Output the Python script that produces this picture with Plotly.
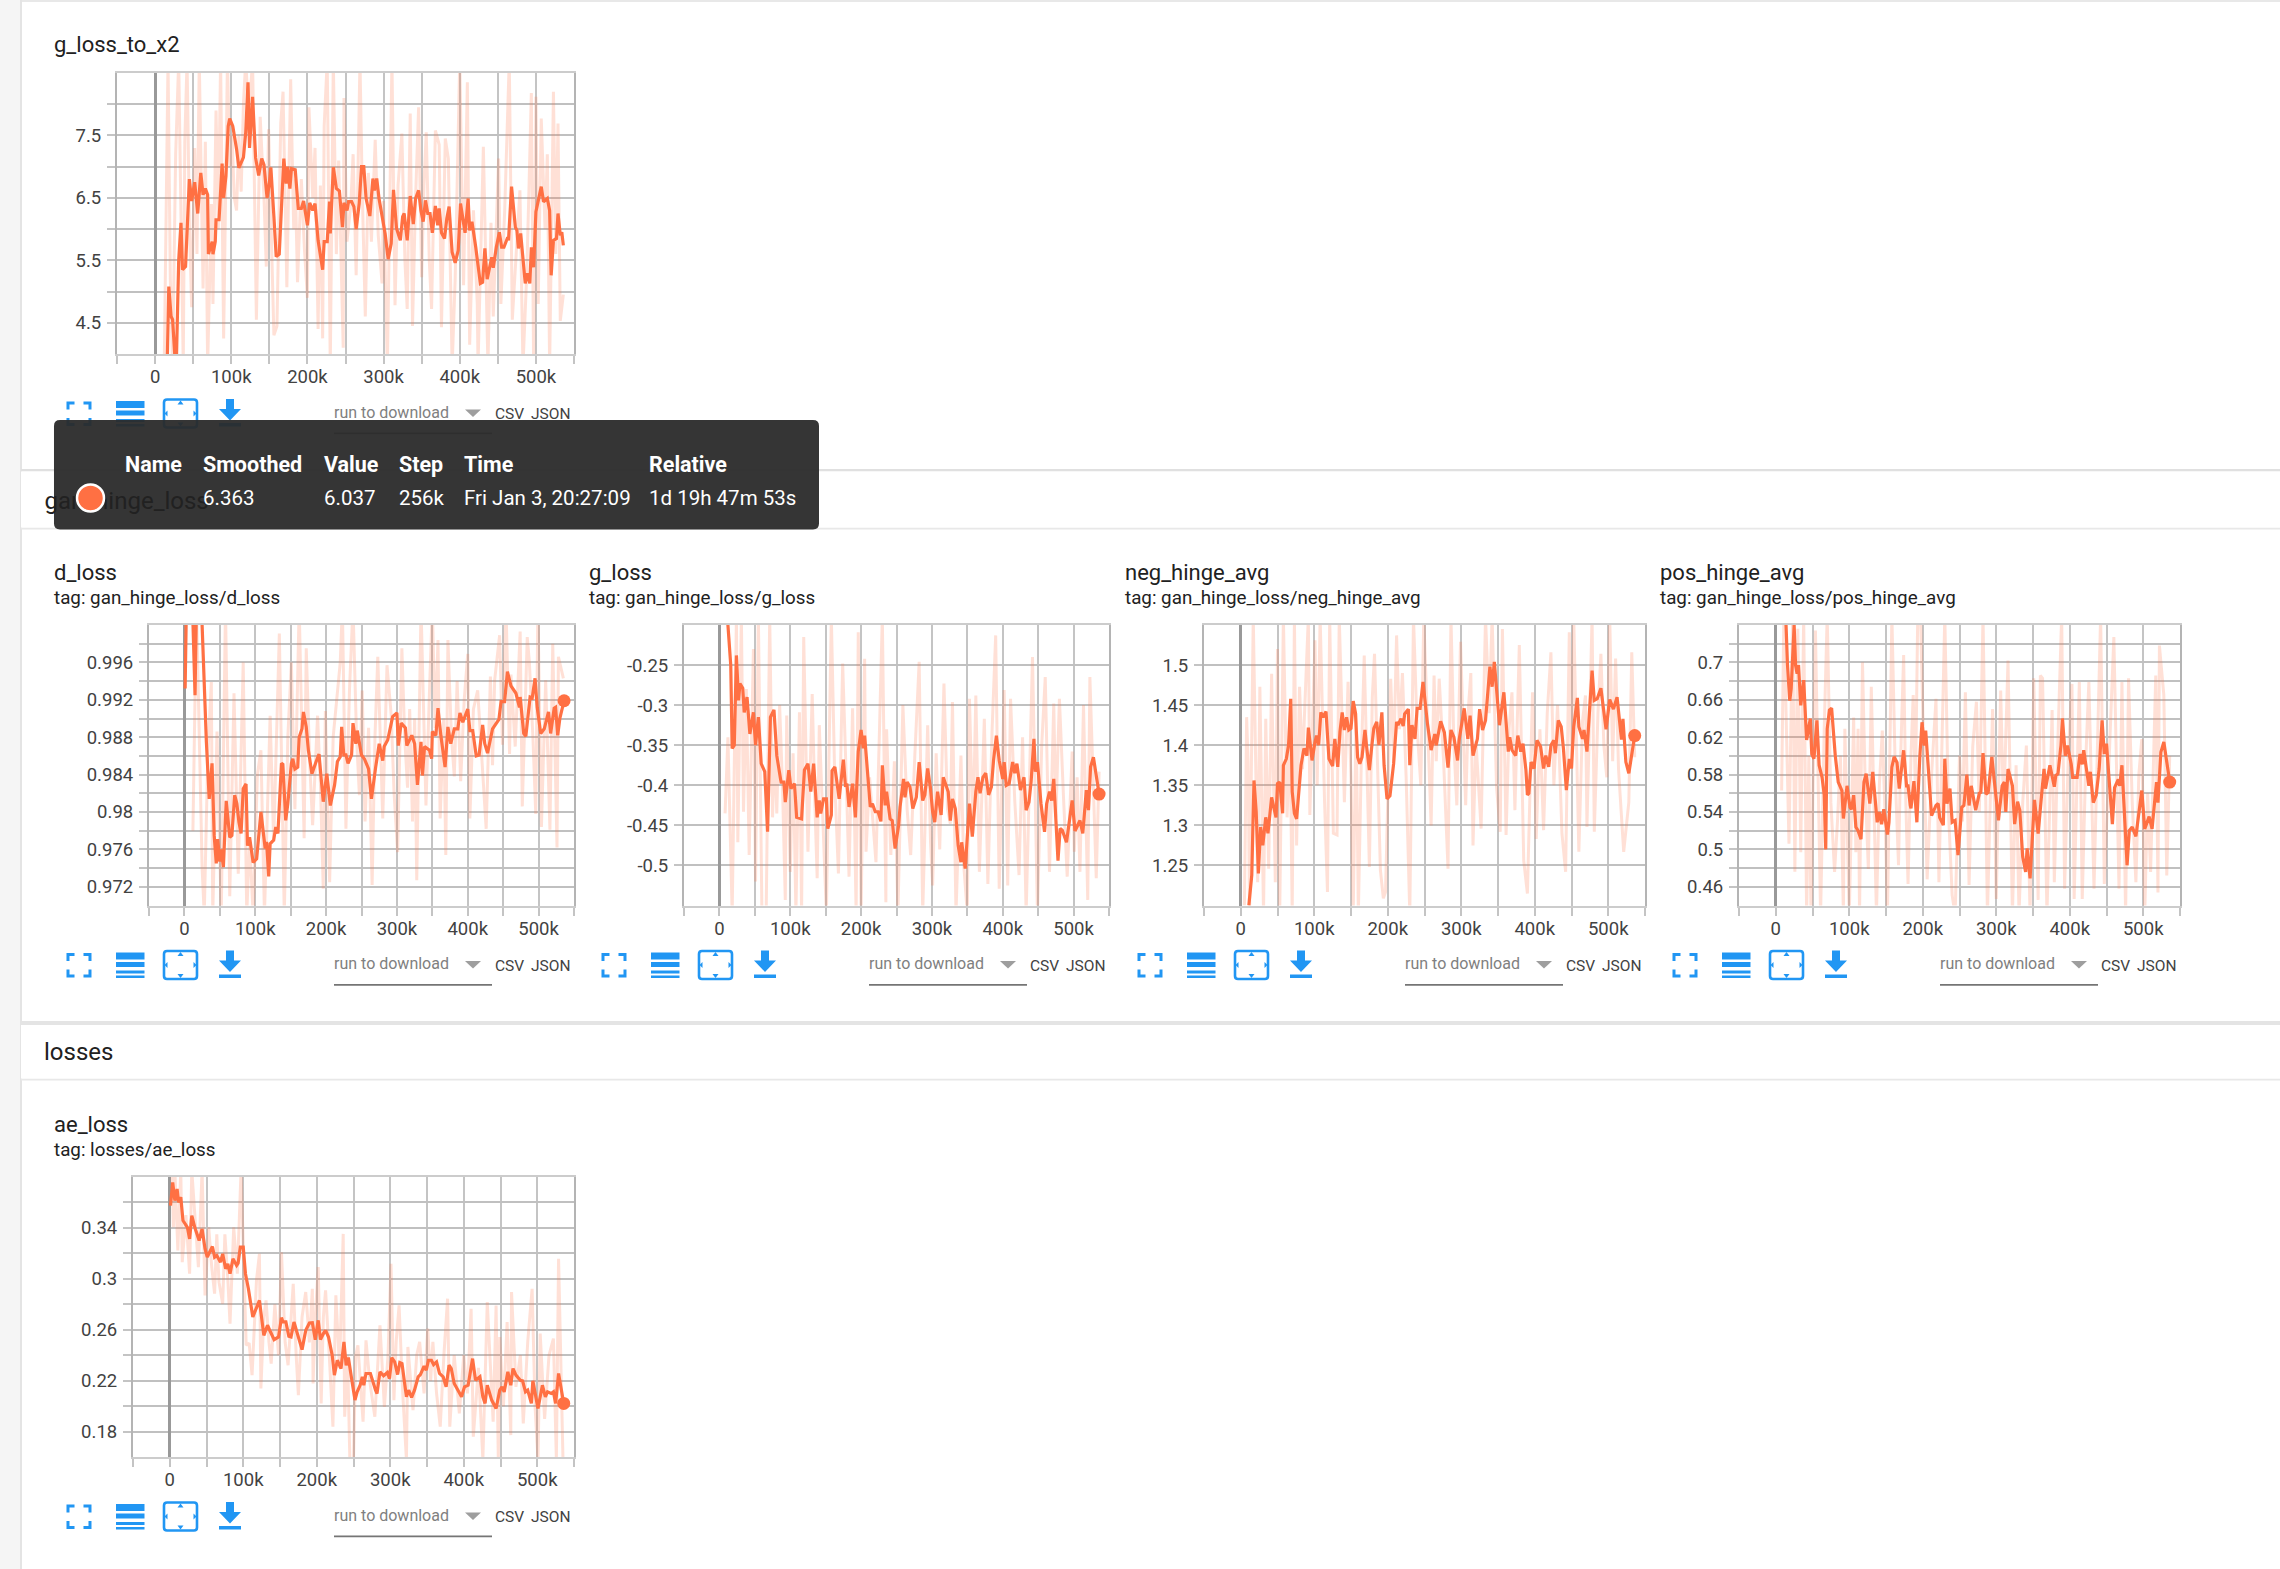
import plotly.graph_objects as go

W = 2280
H = 1569
ORANGE = "#ff7043"
BLUE = "#2196f3"
FONT = "Roboto"

x_ticks = [-50, 0, 50, 100, 150, 200, 250, 300, 350, 400, 450, 500, 550]
x_labels = ["", "0", "", "100k", "", "200k", "", "300k", "", "400k", "", "500k", ""]

# g_loss_to_x2
x2_steps = [16,18,21,23,26,28,31,34,36,40,45,48,52,56,60,63,66,69,70,75,76,79,80,84,88,90,93,96,98,102,107,110,116,119,122,124,128,132,136,140,143,147,150,152,156,159,163,166,169,172,174,177,179,184,188,192,195,200,203,207,210,214,220,222,226,229,230,234,238,242,246,248,252,254,258,261,264,268,271,274,277,282,286,288,291,294,298,302,306,310,313,317,322,325,327,331,335,339,342,346,349,352,355,358,361,364,368,371,373,376,380,383,386,390,394,398,401,407,411,413,416,421,427,430,433,436,442,444,448,452,455,458,463,464,468,473,475,477,480,483,486,489,492,494,497,500,504,507,510,515,518,520,523,527,529,532,534,536]
x2_smooth = [3.9,5.08,4.6,4.55,3.95,3.9,5.5,6.1,5.35,5.4,6.8,6.45,6.75,6.25,6.9,6.55,6.65,6.55,5.6,5.8,5.6,5.8,6.15,6.15,7.05,6.5,6.85,7.65,7.77,7.65,7.28,6.98,7.15,7.55,8.35,7.3,8.12,7.14,6.86,7.13,7.03,6.5,6.73,6.99,6.2,5.56,5.6,6.4,7.13,6.73,7,6.65,6.97,6.95,6.33,6.33,6.45,6.06,6.42,6.3,6.41,5.82,5.35,5.8,5.8,6.44,5.93,6.99,6.65,6.61,6.03,6.42,6.3,6.44,6.44,6.36,6,6.41,7,7,6.49,6.21,6.81,6.62,6.81,6.49,6.2,5.93,5.52,5.77,6.63,6.01,5.82,6.2,6.25,5.82,6.53,6.08,6.49,6.62,6.3,6.12,6.46,6.25,6.25,5.94,6.37,6.06,6.33,5.94,5.85,6.17,6.36,5.63,5.46,5.66,6.41,5.94,6.49,5.98,6.12,5.71,5.13,5.15,5.69,5.2,5.55,5.38,5.71,5.95,5.71,5.71,5.87,5.82,6.68,6.03,5.98,5.69,5.93,5.5,5.13,5.29,5.13,5.71,5.39,6.28,6.49,6.68,6.44,6.49,6.3,5.26,5.82,5.85,6.25,5.9,5.95,5.74]
x2_raw_steps = [12,17,20,23,27,31,34,37,39,42,45,48,52,55,58,63,66,69,74,76,80,83,86,90,95,98,101,104,107,110,113,116,119,123,128,133,138,143,146,149,152,156,160,165,168,173,178,182,184,187,192,196,200,202,207,210,214,217,220,222,226,230,234,238,241,244,247,248,252,257,260,264,269,272,276,280,284,289,293,298,300,305,311,315,319,324,328,331,335,338,342,346,350,353,356,360,363,368,373,376,381,385,390,394,400,405,410,413,418,423,424,431,434,437,441,444,451,454,459,465,469,473,479,483,488,491,494,497,500,503,507,512,515,518,523,526,529,532,536]
x2_raw = [3.8,8.7,5.2,3.8,7.2,8.7,6.2,3.8,7.4,8.7,6.1,4.75,7.3,5.6,8.7,5.05,7.4,3.8,6.4,4.8,7.9,6.0,8.7,4.25,8.7,7.0,7.5,6.5,6.3,7.5,6.6,8.0,8.7,7.8,8.7,4.55,7.8,6.5,5.4,7.6,6.2,4.3,4.45,7.7,8.2,5.07,8.4,6.0,6.8,5.15,6.8,5.7,4.9,7.95,6.5,7.3,4.4,6.7,4.25,7.65,8.7,3.8,8.7,5.6,7.1,5.6,4.1,8.1,5.8,6.4,7.2,5.26,8.7,6.6,4.6,6.9,5.8,7.43,5.9,5.13,6.45,3.8,8.7,4.78,6.7,7.53,5.5,4.72,7.85,4.45,6.5,7.95,5.23,6.7,7.55,5.5,4.72,7.58,7.35,4.43,7.45,7.13,3.8,5.2,8.7,5.1,8.35,4.15,6.3,4.8,3.8,7.32,5.7,3.8,6.1,4.6,7.13,4.8,6.3,8.7,4.55,5.4,6.62,3.8,5.3,6.7,8.18,3.8,8.12,4.8,7.77,6,7.2,3.8,8.2,5.6,7.69,4.53,4.95]
x2_y_ticks = [4.5, 5, 5.5, 6, 6.5, 7, 7.5, 8]
x2_y_labels = ["4.5", "", "5.5", "", "6.5", "", "7.5", ""]

# d_loss
d_steps = [1,3,11,15,17,24,31,35,39,42,45,47,50,52,55,59,64,67,71,74,77,80,83,87,89,92,97,102,108,114,116,119,121,126,129,132,137,139,143,146,151,153,156,160,162,166,168,172,175,180,186,190,196,201,206,212,216,220,222,225,228,231,236,238,242,244,250,254,260,264,270,275,280,282,287,294,300,302,306,312,314,321,325,329,334,336,339,346,349,350,355,358,362,368,372,376,381,386,389,393,400,403,407,412,416,421,424,428,435,444,447,452,456,461,468,473,474,479,482,488,491,495,498,503,508,514,517,522,524,527,530,536]
d_smooth = [.9932,1.003,1.003,.9925,1.002,1.002,.9875,.9814,.9852,.9775,.9745,.9771,.9747,.976,.9741,.9812,.9773,.9775,.9818,.9809,.9789,.9777,.9825,.983,.9764,.9773,.9746,.975,.98,.9761,.9768,.9731,.9766,.977,.9784,.9777,.9852,.9851,.9791,.9809,.9852,.9857,.9846,.9848,.988,.9889,.9907,.9891,.9866,.9841,.9854,.9862,.9811,.9841,.9807,.9829,.9854,.9859,.9891,.9861,.9861,.9852,.9861,.9895,.9873,.9887,.9861,.9857,.9846,.9814,.9848,.9873,.9855,.987,.9877,.9902,.9906,.9871,.9895,.989,.9871,.9882,.9873,.9829,.9875,.9839,.987,.9866,.9857,.9886,.9882,.9911,.9882,.9848,.9891,.9873,.9889,.9889,.9906,.9896,.991,.9887,.9887,.986,.9861,.9893,.9873,.9863,.9889,.9899,.9918,.9918,.995,.9935,.9927,.9912,.9923,.9884,.9881,.9923,.9922,.9943,.9912,.9884,.9889,.9907,.9884,.9911,.9912,.9882,.99,.9919]
d_raw_steps = [12,17,25,28,33,38,40,46,52,58,64,70,76,80,83,88,92,97,103,108,113,121,126,130,134,141,146,151,156,162,166,169,172,177,181,188,192,196,199,205,210,214,220,223,228,233,238,243,247,251,255,260,265,269,273,280,286,292,296,301,307,311,315,318,322,325,328,334,341,346,350,354,358,361,366,369,372,377,381,385,390,395,400,403,408,414,420,426,432,435,438,445,449,454,459,461,467,474,477,484,487,492,496,499,504,510,516,520,526,528,535]
d_raw = [.978,1.002,.974,.969,.986,.9939,.969,.9886,.969,1.002,.971,.9927,.9734,.985,.996,.969,.977,.969,.984,.9866,.969,.9903,.9768,.988,.9991,.969,.988,.996,.9803,1.002,.986,.9772,.9975,.985,.9786,.9903,.983,.9718,.9908,.9725,.988,.9912,.996,1.002,.9782,.993,1.002,.988,.9818,.993,.979,.989,.9722,.988,.9966,.9793,.9957,.9903,.982,.9757,.9975,.988,.9826,.991,.979,.99,.9727,1.002,.9807,.993,1.002,.989,.9984,.9793,.99,.9754,.9984,.988,.9838,.994,.9833,.992,.9969,.9793,.991,.993,.985,.9782,.9945,.985,.9941,.9989,.9872,1.002,.9862,.9947,.987,.9993,.9806,.9987,.996,.988,.9798,1.002,.9784,.9941,.9781,.998,.9762,.9966,.9943]
d_y_ticks = [.972,.974,.976,.978,.98,.982,.984,.986,.988,.99,.992,.994,.996,.998]
d_y_labels = ["0.972","","0.976","","0.98","","0.984","","0.988","","0.992","","0.996",""]

# g_loss
g_steps = [12,16,18,21,24,27,29,33,35,39,43,48,51,55,59,64,68,72,77,81,87,91,93,98,101,106,109,116,120,125,129,133,138,141,143,147,151,153,158,159,163,169,175,178,180,183,188,192,196,200,203,205,213,216,220,224,228,230,234,236,241,244,248,253,255,260,262,265,269,273,278,282,287,290,294,298,301,304,308,313,316,323,326,329,333,337,341,342,347,353,357,362,365,368,372,376,380,384,387,391,395,400,402,405,409,414,417,420,425,430,433,437,440,444,446,449,454,459,462,466,469,472,478,481,484,490,498,502,509,513,518,521,524,528,536]
g_smooth = [-.2,-.25,-.354,-.35,-.238,-.294,-.273,-.279,-.309,-.29,-.336,-.309,-.35,-.315,-.373,-.383,-.458,-.315,-.306,-.363,-.396,-.396,-.421,-.381,-.404,-.398,-.44,-.442,-.381,-.373,-.408,-.373,-.44,-.419,-.435,-.417,-.417,-.454,-.437,-.382,-.377,-.417,-.368,-.402,-.398,-.427,-.398,-.44,-.358,-.331,-.354,-.338,-.427,-.423,-.433,-.433,-.445,-.375,-.425,-.408,-.442,-.444,-.479,-.45,-.427,-.392,-.415,-.396,-.402,-.429,-.415,-.371,-.419,-.412,-.379,-.404,-.433,-.446,-.408,-.437,-.39,-.408,-.444,-.417,-.429,-.475,-.496,-.471,-.504,-.423,-.464,-.408,-.39,-.41,-.39,-.385,-.412,-.402,-.369,-.338,-.369,-.392,-.371,-.4,-.398,-.371,-.385,-.373,-.406,-.39,-.431,-.421,-.396,-.342,-.383,-.371,-.423,-.458,-.423,-.408,-.419,-.392,-.494,-.454,-.456,-.471,-.419,-.457,-.444,-.46,-.406,-.431,-.377,-.365,-.411]
g_raw_steps = [8,12,18,24,26,31,34,38,42,48,51,55,60,66,71,75,78,81,85,89,93,95,100,104,108,113,116,119,125,131,135,138,141,145,148,151,158,163,168,174,179,183,188,193,196,200,205,207,212,216,221,226,230,235,236,242,247,252,259,265,270,276,282,287,294,298,301,306,311,317,322,326,329,334,341,345,350,353,358,362,367,374,379,385,390,395,402,407,411,417,423,428,433,442,449,455,460,466,472,475,480,486,491,498,501,505,509,514,520,523,528,532,536]
g_raw = [-.435,-.34,-.56,-.19,-.471,-.19,-.433,-.28,-.487,-.23,-.52,-.19,-.56,-.56,-.19,-.44,-.35,-.435,-.3,-.4,-.543,-.313,-.508,-.36,-.56,-.309,-.56,-.215,-.483,-.286,-.43,-.516,-.325,-.42,-.479,-.56,-.19,-.4,-.51,-.248,-.39,-.514,-.304,-.56,-.209,-.56,-.242,-.483,-.39,-.44,-.496,-.33,-.19,-.546,-.33,-.487,-.37,-.56,-.3,-.43,-.487,-.36,-.246,-.56,-.325,-.47,-.525,-.36,-.48,-.273,-.43,-.448,-.296,-.56,-.363,-.5,-.56,-.292,-.46,-.288,-.508,-.317,-.523,-.33,-.213,-.529,-.281,-.525,-.292,-.42,-.512,-.34,-.56,-.24,-.56,-.35,-.265,-.508,-.298,-.44,-.292,-.42,-.514,-.358,-.483,-.39,-.508,-.3,-.543,-.265,-.4,-.516,-.383]
g_y_ticks = [-.5,-.45,-.4,-.35,-.3,-.25]
g_y_labels = ["-0.5","-0.45","-0.4","-0.35","-0.3","-0.25"]

# neg_hinge_avg
neg_steps = [11,15,18,21,24,27,30,34,37,42,48,50,53,57,58,62,65,68,70,73,76,82,86,90,92,97,101,103,106,109,112,116,120,125,128,132,135,138,141,144,147,150,153,156,159,162,165,169,171,175,178,181,185,188,192,195,199,203,208,212,214,218,221,223,228,230,233,237,240,244,248,254,259,264,266,272,277,282,286,290,295,297,304,309,312,316,322,325,329,333,339,342,345,352,358,364,366,369,374,377,381,384,388,390,392,395,399,403,408,412,415,419,422,426,428,432,436,439,443,447,450,453,458,460,465,467,471,478,481,485,490,497,502,507,512,518,520,524,528,536]
neg_smooth = [1.2,1.238,1.356,1.317,1.24,1.298,1.275,1.31,1.29,1.335,1.31,1.352,1.354,1.315,1.375,1.383,1.4,1.458,1.342,1.315,1.308,1.375,1.396,1.387,1.422,1.381,1.404,1.412,1.4,1.441,1.435,1.442,1.383,1.374,1.408,1.373,1.417,1.441,1.419,1.435,1.419,1.421,1.455,1.441,1.385,1.377,1.385,1.419,1.4,1.369,1.396,1.421,1.429,1.4,1.441,1.375,1.333,1.337,1.377,1.429,1.425,1.433,1.424,1.439,1.445,1.375,1.425,1.408,1.446,1.446,1.479,1.427,1.394,1.414,1.4,1.43,1.416,1.372,1.419,1.41,1.381,1.406,1.446,1.408,1.437,1.387,1.408,1.445,1.419,1.431,1.498,1.473,1.504,1.425,1.466,1.392,1.41,1.394,1.387,1.412,1.392,1.402,1.369,1.338,1.34,1.379,1.371,1.406,1.398,1.371,1.387,1.373,1.4,1.406,1.39,1.431,1.423,1.396,1.344,1.383,1.371,1.423,1.459,1.423,1.408,1.419,1.392,1.493,1.456,1.458,1.471,1.42,1.457,1.445,1.46,1.407,1.433,1.379,1.365,1.412]
neg_raw_steps = [5,8,10,12,17,23,26,31,34,38,42,47,50,53,58,63,67,70,73,76,80,84,87,92,94,101,104,108,114,118,121,126,131,134,141,146,150,153,157,160,164,168,175,179,182,186,190,194,197,204,208,212,216,220,225,230,235,240,245,249,254,259,263,266,270,276,282,286,290,294,299,306,310,313,316,320,327,333,338,342,348,353,356,361,365,369,373,379,385,390,397,402,407,412,417,422,426,431,437,442,447,450,453,460,465,469,471,478,481,486,490,494,498,502,506,510,514,518,521,528,532,536]
neg_raw = [1.2,1.435,1.38,1.19,1.56,1.229,1.473,1.19,1.433,1.246,1.489,1.229,1.52,1.19,1.56,1.31,1.42,1.19,1.56,1.275,1.473,1.37,1.445,1.56,1.313,1.531,1.35,1.56,1.33,1.217,1.56,1.29,1.288,1.56,1.329,1.479,1.36,1.19,1.44,1.19,1.38,1.512,1.248,1.46,1.514,1.38,1.244,1.209,1.217,1.483,1.38,1.537,1.42,1.49,1.36,1.19,1.56,1.42,1.35,1.56,1.44,1.3,1.487,1.38,1.483,1.38,1.246,1.56,1.4,1.325,1.529,1.325,1.45,1.49,1.275,1.405,1.296,1.56,1.44,1.56,1.348,1.292,1.545,1.288,1.42,1.466,1.319,1.525,1.256,1.215,1.466,1.283,1.42,1.294,1.44,1.516,1.35,1.45,1.29,1.242,1.541,1.37,1.56,1.267,1.43,1.462,1.298,1.56,1.292,1.44,1.514,1.4,1.36,1.56,1.38,1.508,1.37,1.304,1.267,1.329,1.516,1.385]
neg_y_ticks = [1.25,1.3,1.35,1.4,1.45,1.5]
neg_y_labels = ["1.25","1.3","1.35","1.4","1.45","1.5"]

# pos_hinge_avg
pos_steps = [14,16,19,21,25,27,29,31,34,38,42,47,49,52,56,59,63,66,68,70,73,76,81,85,90,92,97,101,103,106,109,112,116,120,123,128,132,136,138,141,144,147,152,154,158,161,165,168,174,178,180,183,184,188,192,196,199,202,204,207,212,218,221,223,228,230,233,237,240,244,248,253,256,260,263,266,272,277,279,282,286,289,294,297,303,308,311,313,316,322,325,329,332,336,340,342,346,352,357,362,365,367,373,379,381,384,388,390,394,397,402,404,410,414,417,419,423,426,428,432,436,440,444,447,450,454,458,461,466,468,471,478,481,485,490,498,502,508,512,518,520,524,528,536]
pos_smooth = [.74,.697,.659,.672,.74,.697,.688,.697,.654,.681,.617,.64,.602,.597,.638,.59,.577,.558,.5,.629,.649,.651,.6,.572,.563,.533,.568,.545,.543,.558,.524,.52,.511,.572,.581,.549,.583,.549,.529,.54,.527,.543,.516,.529,.588,.599,.593,.565,.606,.568,.568,.547,.544,.573,.529,.599,.636,.611,.627,.593,.536,.547,.549,.534,.526,.597,.549,.565,.529,.531,.494,.545,.547,.58,.547,.568,.542,.56,.561,.603,.559,.561,.599,.576,.531,.568,.572,.54,.586,.568,.527,.551,.542,.492,.476,.501,.469,.553,.517,.561,.586,.565,.59,.567,.579,.581,.611,.64,.6,.611,.591,.577,.577,.602,.591,.606,.581,.568,.583,.55,.558,.586,.638,.602,.613,.566,.527,.566,.575,.568,.59,.483,.52,.524,.514,.563,.522,.535,.522,.572,.55,.604,.615,.572]
pos_raw_steps = [8,11,14,18,23,26,30,34,38,42,45,48,54,59,61,66,70,75,80,84,88,92,94,100,106,109,112,114,118,122,126,130,134,137,141,145,149,152,158,163,167,170,174,177,180,184,187,190,193,197,202,206,212,218,222,226,230,235,240,244,250,254,258,263,268,273,277,282,288,295,300,306,310,316,322,327,331,336,341,346,351,357,360,363,369,376,379,384,389,393,398,403,406,413,417,422,426,433,438,442,447,454,460,467,471,476,480,485,490,494,498,502,506,510,514,517,520,522,528,532,536]
pos_raw = [.563,.75,.647,.506,.75,.476,.736,.497,.75,.43,.6,.43,.734,.494,.43,.63,.75,.55,.476,.53,.6,.43,.629,.43,.641,.497,.629,.43,.7,.56,.479,.674,.52,.43,.57,.627,.53,.43,.75,.57,.483,.6,.708,.55,.463,.6,.665,.56,.74,.75,.58,.468,.58,.661,.465,.6,.75,.54,.451,.43,.6,.53,.668,.462,.61,.658,.54,.75,.43,.65,.447,.67,.54,.702,.43,.59,.43,.55,.611,.43,.683,.446,.686,.683,.43,.649,.465,.62,.75,.458,.6,.677,.447,.679,.447,.6,.679,.458,.62,.75,.463,.6,.727,.458,.679,.43,.683,.55,.465,.58,.618,.43,.56,.476,.6,.686,.454,.718,.665,.472,.6]
pos_y_ticks = [.46,.48,.5,.52,.54,.56,.58,.6,.62,.64,.66,.68,.7,.72]
pos_y_labels = ["0.46","","0.5","","0.54","","0.58","","0.62","","0.66","","0.7",""]

# ae_loss
ae_steps = [1,4,7,10,12,15,18,24,27,30,34,40,44,48,51,54,58,61,64,69,72,76,79,82,86,91,93,96,100,103,107,113,117,122,128,133,136,142,148,152,154,158,162,165,169,175,180,185,190,194,198,202,205,209,212,216,221,224,228,233,237,240,243,247,252,255,259,262,264,267,273,280,282,286,291,296,299,302,306,310,313,316,322,325,329,333,338,341,346,349,352,356,359,363,367,372,376,380,383,387,397,401,406,412,416,422,426,429,432,438,444,449,452,455,460,464,467,471,477,480,484,487,492,494,501,507,511,514,519,522,525,529,533,536]
ae_smooth = [.3575,.3758,.3614,.3706,.3601,.3641,.3458,.3405,.3314,.3497,.3405,.3301,.3392,.3236,.317,.3209,.3254,.317,.3183,.3131,.3196,.3079,.3118,.304,.3157,.3105,.3123,.3249,.3249,.304,.2922,.27,.2765,.2831,.2556,.2635,.2596,.2522,.2543,.2695,.2661,.2661,.2548,.2543,.2661,.2543,.2444,.2595,.2653,.2655,.2522,.2674,.2522,.2569,.2595,.2543,.24,.2243,.236,.2295,.2504,.2321,.2381,.223,.2047,.2112,.2164,.223,.2164,.2256,.2256,.2125,.2099,.2269,.2238,.2264,.2216,.2381,.2347,.2248,.2342,.2334,.2073,.2125,.2068,.2125,.223,.2248,.2313,.2282,.236,.236,.2326,.2347,.2256,.223,.2151,.2321,.2295,.2177,.2073,.2151,.2164,.2373,.2203,.223,.2073,.2021,.2164,.2047,.1981,.2125,.2151,.2112,.2269,.2164,.2295,.2243,.2203,.2198,.2112,.2125,.2021,.2198,.1981,.2164,.2073,.2112,.2099,.2112,.2021,.2256,.2125,.2021]
ae_raw_steps = [3,5,7,11,15,17,22,27,30,35,39,44,48,53,57,61,64,67,72,75,79,82,87,92,97,104,108,112,118,122,124,128,131,135,138,143,148,152,157,161,165,168,172,175,180,185,190,194,195,198,202,206,209,212,217,222,226,231,236,238,242,245,250,253,256,260,263,267,272,279,286,292,297,301,305,308,312,317,322,324,331,336,340,346,351,355,358,363,368,373,378,381,387,394,400,405,410,413,420,426,432,440,444,447,449,454,459,464,465,471,477,481,487,493,497,501,504,510,516,522,526,529,535]
ae_raw = [.385,.3405,.385,.3222,.385,.3131,.35,.304,.385,.34,.3092,.385,.287,.3405,.31,.2883,.335,.2974,.2804,.335,.3,.2648,.3405,.304,.385,.2478,.2495,.2243,.2987,.3196,.2138,.27,.2831,.25,.2334,.28,.24,.3209,.25,.2321,.27,.2961,.24,.2086,.27,.2896,.25,.2922,.2177,.27,.3092,.2021,.27,.2909,.24,.1838,.287,.23,.3353,.1916,.24,.158,.158,.24,.2478,.21,.1877,.2517,.22,.1916,.2635,.1994,.24,.3118,.2047,.25,.2791,.21,.158,.2465,.1968,.24,.2504,.21,.2609,.22,.2504,.21,.1838,.24,.2844,.1838,.24,.1942,.24,.21,.2765,.1759,.23,.158,.2818,.1877,.2791,.158,.2543,.2,.2661,.1772,.2896,.2151,.24,.1864,.25,.2922,.2,.158,.257,.19,.24,.253,.158,.3157,.158]
ae_y_ticks = [.18,.2,.22,.24,.26,.28,.3,.32,.34,.36]
ae_y_labels = ["0.18","","0.22","","0.26","","0.3","","0.34",""]

tooltip_headers = ["Name", "Smoothed", "Value", "Step", "Time", "Relative"]
tooltip_values = ["6.363", "6.037", "256k", "Fri Jan 3, 20:27:09", "1d 19h 47m 53s"]

charts = [
    dict(title="g_loss_to_x2", tag=None, box=(117, 574, 73, 354), yrange=(4, 8.5),
         steps=x2_steps, smooth=x2_smooth, raw_steps=x2_raw_steps, raw=x2_raw,
         yticks=x2_y_ticks, ylabels=x2_y_labels, last=False),
    dict(title="d_loss", tag="tag: gan_hinge_loss/d_loss", box=(149, 574, 625, 905.5), yrange=(.97, 1.0),
         steps=d_steps, smooth=d_smooth, raw_steps=d_raw_steps, raw=d_raw,
         yticks=d_y_ticks, ylabels=d_y_labels, last=True),
    dict(title="g_loss", tag="tag: gan_hinge_loss/g_loss", box=(684, 1109, 625, 905.5), yrange=(-.55, -.2),
         steps=g_steps, smooth=g_smooth, raw_steps=g_raw_steps, raw=g_raw,
         yticks=g_y_ticks, ylabels=g_y_labels, last=True),
    dict(title="neg_hinge_avg", tag="tag: gan_hinge_loss/neg_hinge_avg", box=(1204, 1645, 625, 905.5), yrange=(1.2, 1.55),
         steps=neg_steps, smooth=neg_smooth, raw_steps=neg_raw_steps, raw=neg_raw,
         yticks=neg_y_ticks, ylabels=neg_y_labels, last=True),
    dict(title="pos_hinge_avg", tag="tag: gan_hinge_loss/pos_hinge_avg", box=(1739, 2180, 625, 905.5), yrange=(.44, .74),
         steps=pos_steps, smooth=pos_smooth, raw_steps=pos_raw_steps, raw=pos_raw,
         yticks=pos_y_ticks, ylabels=pos_y_labels, last=True),
    dict(title="ae_loss", tag="tag: losses/ae_loss", box=(133, 574, 1177, 1457), yrange=(.16, .38),
         steps=ae_steps, smooth=ae_smooth, raw_steps=ae_raw_steps, raw=ae_raw,
         yticks=ae_y_ticks, ylabels=ae_y_labels, last=True),
]


def px(x):
    return x / W


def py(y):
    return 1 - y / H


def path(*pts, close=False):
    # pixel points to a paper space svg path
    out = "M" + " L".join(f"{px(x):.5f},{py(y):.5f}" for x, y in pts)
    return out + (" Z" if close else "")


def rect(x0, y0, x1, y1, fill, line=None, lw=0, layer="above"):
    return dict(type="rect", xref="paper", yref="paper", x0=px(x0), x1=px(x1), y0=py(y0), y1=py(y1),
                fillcolor=fill, line=dict(color=line or fill, width=lw), layer=layer)


def poly(pts, fill="rgba(0,0,0,0)", line=None, lw=0, close=True):
    return dict(type="path", xref="paper", yref="paper", path=path(*pts, close=close), fillcolor=fill,
                line=dict(color=line or fill, width=lw), layer="above")


def rounded(x0, y0, x1, y1, r):
    return (f"M{px(x0 + r):.5f},{py(y0):.5f} L{px(x1 - r):.5f},{py(y0):.5f} "
            f"Q{px(x1):.5f},{py(y0):.5f} {px(x1):.5f},{py(y0 + r):.5f} "
            f"L{px(x1):.5f},{py(y1 - r):.5f} Q{px(x1):.5f},{py(y1):.5f} {px(x1 - r):.5f},{py(y1):.5f} "
            f"L{px(x0 + r):.5f},{py(y1):.5f} Q{px(x0):.5f},{py(y1):.5f} {px(x0):.5f},{py(y1 - r):.5f} "
            f"L{px(x0):.5f},{py(y0 + r):.5f} Q{px(x0):.5f},{py(y0):.5f} {px(x0 + r):.5f},{py(y0):.5f} Z")


def label(x, y, text, size, color="#212121", weight=400, anchor="left"):
    return dict(x=px(x), y=py(y), xref="paper", yref="paper", text=text, showarrow=False, xanchor=anchor,
                yanchor="middle", borderpad=0, borderwidth=0,
                font=dict(family=FONT, size=size, color=color, weight=weight))


def toolbar(right, bottom):
    # the row of buttons under every chart, placed from the plot's right and bottom edge
    s = []
    x = right - 506
    y = bottom + 49
    c = 6.5
    for sx, ex, sy, ey in [(x, x + c, y, y + c), (x + 22, x + 22 - c, y, y + c),
                           (x, x + c, y + 21.5, y + 21.5 - c), (x + 22, x + 22 - c, y + 21.5, y + 21.5 - c)]:
        s.append(poly([(ex, sy), (sx, sy), (sx, ey)], line=BLUE, lw=3, close=False))
    x = right - 458
    for y0, y1 in [(-2, 5), (7.5, 12.5), (16, 19), (21, 23.5)]:
        s.append(rect(x, y + y0, x + 28.5, y + y1, BLUE))
    x = right - 411
    s.append(dict(type="path", xref="paper", yref="paper", layer="above", fillcolor="rgba(0,0,0,0)",
                  path=rounded(x + 1, y - 3.5, x + 34, y + 24.5, 3), line=dict(color=BLUE, width=2.6)))
    mx = x + 17.5
    my = y + 10.5
    t = 3
    s.append(poly([(mx - t, my - 9), (mx + t, my - 9), (mx, my - 13)], fill=BLUE))
    s.append(poly([(mx - t, my + 9), (mx + t, my + 9), (mx, my + 13)], fill=BLUE))
    s.append(poly([(mx - 13, my - t), (mx - 13, my + t), (mx - 17 + 1, my)], fill=BLUE))
    s.append(poly([(mx + 13, my - t), (mx + 13, my + t), (mx + 16, my)], fill=BLUE))
    x = right - 355
    s.append(poly([(x + 7, y - 4), (x + 15, y - 4), (x + 15, y + 6), (x + 22, y + 6), (x + 11, y + 17.5), (x, y + 6), (x + 7, y + 6)], fill=BLUE))
    s.append(rect(x, y + 20, x + 22, y + 23.5, BLUE))
    s.append(poly([(right - 109, y + 6.5), (right - 93, y + 6.5), (right - 101, y + 14)], fill="#9e9e9e"))
    s.append(rect(right - 240, bottom + 78.5, right - 82, bottom + 80.3, "#757575"))
    return s


def toolbar_text(right, bottom):
    return [
        label(right - 240, bottom + 58, "run to download", 16, "#808080"),
        label(right - 79, bottom + 60, "CSV", 15.5, "#424242"),
        label(right - 43, bottom + 60, "JSON", 15.5, "#424242"),
    ]


fig = go.Figure()
shapes = [
    rect(0, 0, 21, H, "#f5f5f5", layer="below"),
    rect(20, 0, 22, H, "#e4e4e4", layer="below"),
    rect(22, 0, W, 2, "#e8e8e8", layer="below"),
    rect(22, 1021, W, 1025, "#e4e4e4", layer="below"),
    rect(21, 469, W, 471.5, "#e0e0e0", layer="below"),
    rect(21, 527.5, W, 529.5, "#e8e8e8", layer="below"),
    rect(21, 1078.5, W, 1080.5, "#e8e8e8", layer="below"),
]
annotations = [label(44, 1051.5, "losses", 24)]

for i, c in enumerate(charts, start=1):
    assert len(c["steps"]) == len(c["smooth"]) and len(c["raw_steps"]) == len(c["raw"]), c["title"]
    left, right, top, bottom = c["box"]
    xa = f"x{i}"
    ya = f"y{i}"
    fig.add_trace(go.Scatter(x=c["raw_steps"], y=c["raw"], mode="lines", xaxis=xa, yaxis=ya, showlegend=False,
                             line=dict(color="rgba(255,112,67,0.22)", width=3)))
    fig.add_trace(go.Scatter(x=c["steps"], y=c["smooth"], mode="lines", xaxis=xa, yaxis=ya, showlegend=False,
                             line=dict(color=ORANGE, width=3.2)))
    if c["last"]:
        fig.add_trace(go.Scatter(x=c["steps"][-1:], y=c["smooth"][-1:], mode="markers", xaxis=xa, yaxis=ya,
                                 showlegend=False, cliponaxis=False, marker=dict(color=ORANGE, size=13)))
    fig.update_layout({
        f"xaxis{i}": dict(domain=[px(left), px(right)], anchor=ya, range=[-50, 550], tickmode="array",
                          tickvals=x_ticks, ticktext=x_labels, ticks="outside", ticklen=8, tickwidth=1.6,
                          tickcolor="#c4c4c4", showgrid=True, gridcolor="#c4c4c4", gridwidth=1.6,
                          showline=True, mirror=True, linecolor="#cccccc", linewidth=2.2,
                          zeroline=True, zerolinecolor="#999999", zerolinewidth=2.8, ticklabelstandoff=-3,
                          tickfont=dict(family=FONT, size=18.5, color="#424242")),
        f"yaxis{i}": dict(domain=[py(bottom), py(top)], anchor=xa, range=list(c["yrange"]), tickmode="array",
                          tickvals=c["yticks"], ticktext=c["ylabels"], ticks="outside", ticklen=8, tickwidth=1.6,
                          tickcolor="#c4c4c4", showgrid=True, gridcolor="#c0c0c0", gridwidth=1.6,
                          showline=True, mirror=True, linecolor="#b4b4b4", linewidth=2.2, zeroline=False,
                          ticklabelstandoff=2, tickfont=dict(family=FONT, size=18.5, color="#424242")),
    })
    annotations.append(label(right - 520, top - 52.5 if c["tag"] else top - 28, c["title"], 22))
    if c["tag"]:
        annotations.append(label(right - 520, top - 27, c["tag"], 18.8))
    shapes += toolbar(right, bottom)
    annotations += toolbar_text(right, bottom)

# white section bars go under the tooltip, then the section name, then the run dot on top of it
shapes.append(rect(21, 471.5, W, 527.5, "#ffffff", layer="below"))
shapes.append(rect(21, 1025, W, 1078.5, "#ffffff", layer="below"))
shapes.append(dict(type="path", xref="paper", yref="paper", layer="above", path=rounded(54, 420, 819, 529.6, 6),
                   fillcolor="rgba(42,42,42,0.95)", line=dict(width=0)))
shapes.append(dict(type="rect", xref="paper", yref="paper", layer="above", x0=px(41.5), x1=px(300), y0=py(484), y1=py(514),
                   fillcolor="rgba(0,0,0,0)", line=dict(width=0),
                   label=dict(text="gan_hinge_loss", textposition="middle left", padding=0,
                              font=dict(family=FONT, size=24, color="#212121"))))
shapes.append(dict(type="circle", xref="paper", yref="paper", layer="above", x0=px(77), x1=px(104), y0=py(484.5), y1=py(511.5),
                   fillcolor=ORANGE, line=dict(color="#ffffff", width=2.5)))

tooltip_x = [125, 203, 323.6, 398.8, 464, 649]
for x, t in zip(tooltip_x, tooltip_headers):
    annotations.append(label(x, 464, t, 21.5, "#ffffff", 700))
for x, t in zip(tooltip_x[1:], tooltip_values):
    annotations.append(label(x, 498.3, t, 20.5, "#ffffff"))

fig.update_layout(width=W, height=H, margin=dict(l=0, r=0, t=0, b=0), paper_bgcolor="#ffffff",
                  plot_bgcolor="#ffffff", shapes=shapes, annotations=annotations,
                  font=dict(family=FONT), hovermode=False)

# the page's default 8px body margin would push the whole dashboard off its grid
fig.write_html("out.html", config={"displayModeBar": False}, post_script="document.body.style.margin='0';")
